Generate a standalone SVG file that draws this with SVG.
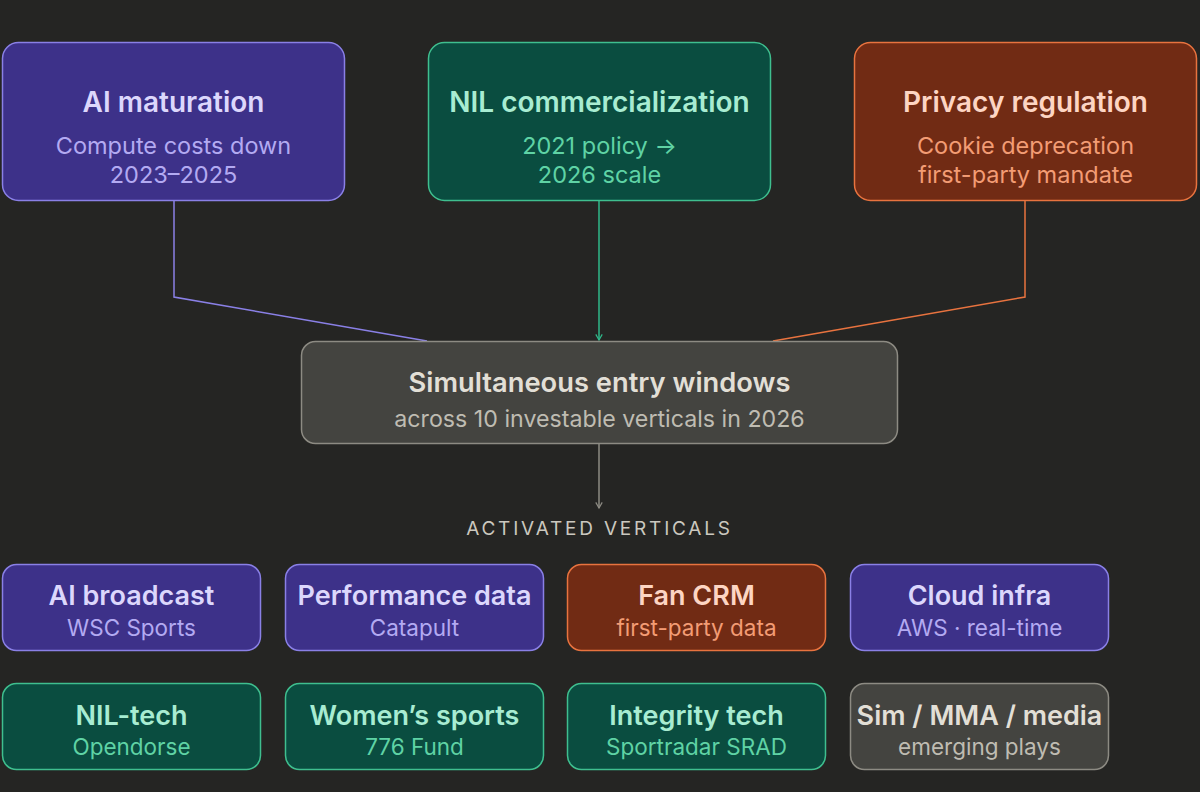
<svg xmlns="http://www.w3.org/2000/svg" width="1200" height="792" viewBox="0 0 1200 792">
<defs>
<marker id="ah-g" viewBox="0 0 10 10" refX="8" refY="5" markerWidth="8" markerHeight="8" orient="auto-start-reverse" markerUnits="userSpaceOnUse"><path d="M1 1 L8 5 L1 9" fill="none" stroke="#2fb88a" stroke-width="1.5"/></marker>
<marker id="ah-n" viewBox="0 0 10 10" refX="8" refY="5" markerWidth="8" markerHeight="8" orient="auto-start-reverse" markerUnits="userSpaceOnUse"><path d="M1 1 L8 5 L1 9" fill="none" stroke="#8d8b83" stroke-width="1.5"/></marker>
</defs>
<style>
text{font-family:Inter,"Liberation Sans",sans-serif;text-anchor:middle}
.t{font-weight:600}
.big{font-size:28px}
.sub{font-size:23.5px}
.cb{font-size:27.3px}
.cs{font-size:23.2px}
.bt{font-size:27px}
.bs{font-size:22.5px}
.purple rect{fill:#3d3189;stroke:#8a80e6;stroke-width:1.5}
.purple .t{fill:#dcd7fc}.purple .s{fill:#b3aaf2}
.green rect{fill:#0a4d40;stroke:#3fbf8f;stroke-width:1.5}
.green .t{fill:#a8ecd2}.green .s{fill:#5fd3a5}
.orange rect{fill:#712b14;stroke:#e8733f;stroke-width:1.5}
.orange .t{fill:#fdd5c3}.orange .s{fill:#f39c74}
.gray rect{fill:#444440;stroke:#8d8b83;stroke-width:1.5}
.gray .t{fill:#e2dfd6}.gray .s{fill:#bfbcb2}
.conn path{fill:none;stroke-width:1.5}
</style>
<rect width="1200" height="792" fill="#252523"/>
<g id="connectors" class="conn">
<path d="M174 201 V297 L427 341" stroke="#8a80e6"/>
<path d="M599 201 V340" stroke="#2fb88a" marker-end="url(#ah-g)"/>
<path d="M1025 201 V297 L773 341" stroke="#e8733f"/>
<path d="M599 444 V508" stroke="#8d8b83" marker-end="url(#ah-n)"/>
</g>
<g id="ai-maturation" class="purple">
<rect x="2.5" y="42.5" width="342" height="158" rx="16"/>
<text class="t big" x="173.5" y="112">AI maturation</text>
<text class="s sub" x="173.5" y="154">Compute costs down</text>
<text class="s sub" x="173.5" y="183">2023–2025</text>
</g>
<g id="nil-commercialization" class="green">
<rect x="428.5" y="42.5" width="342" height="158" rx="16"/>
<text class="t big" x="599.5" y="112">NIL commercialization</text>
<text class="s sub" x="599.5" y="154">2021 policy →</text>
<text class="s sub" x="599.5" y="183">2026 scale</text>
</g>
<g id="privacy-regulation" class="orange">
<rect x="854.5" y="42.5" width="342" height="158" rx="16"/>
<text class="t big" x="1025.5" y="112">Privacy regulation</text>
<text class="s sub" x="1025.5" y="154">Cookie deprecation</text>
<text class="s sub" x="1025.5" y="183">first-party mandate</text>
</g>
<g id="entry-windows" class="gray">
<rect x="301.5" y="341.5" width="596" height="102" rx="14"/>
<text class="t cb" x="599.5" y="392">Simultaneous entry windows</text>
<text class="s cs" x="599.5" y="427">across 10 investable verticals in 2026</text>
</g>
<text id="section-label" x="599.5" y="535" style="font-size:19px;letter-spacing:2.8px;fill:#cbc8bf">ACTIVATED VERTICALS</text>
<g id="ai-broadcast" class="purple">
<rect x="2.5" y="564.5" width="258" height="86" rx="14"/>
<text class="t bt" x="131.5" y="605">AI broadcast</text>
<text class="s bs" x="131.5" y="636">WSC Sports</text>
</g>
<g id="performance-data" class="purple">
<rect x="285.5" y="564.5" width="258" height="86" rx="14"/>
<text class="t bt" x="414.5" y="605">Performance data</text>
<text class="s bs" x="414.5" y="636">Catapult</text>
</g>
<g id="fan-crm" class="orange">
<rect x="567.5" y="564.5" width="258" height="86" rx="14"/>
<text class="t bt" x="696.5" y="605">Fan CRM</text>
<text class="s bs" x="696.5" y="636">first-party data</text>
</g>
<g id="cloud-infra" class="purple">
<rect x="850.5" y="564.5" width="258" height="86" rx="14"/>
<text class="t bt" x="979.5" y="605">Cloud infra</text>
<text class="s bs" x="979.5" y="636">AWS · real-time</text>
</g>
<g id="nil-tech" class="green">
<rect x="2.5" y="683.5" width="258" height="86" rx="14"/>
<text class="t bt" x="131.5" y="725">NIL-tech</text>
<text class="s bs" x="131.5" y="755">Opendorse</text>
</g>
<g id="womens-sports" class="green">
<rect x="285.5" y="683.5" width="258" height="86" rx="14"/>
<text class="t bt" x="414.5" y="725">Women’s sports</text>
<text class="s bs" x="414.5" y="755">776 Fund</text>
</g>
<g id="integrity-tech" class="green">
<rect x="567.5" y="683.5" width="258" height="86" rx="14"/>
<text class="t bt" x="696.5" y="725">Integrity tech</text>
<text class="s bs" x="696.5" y="755">Sportradar SRAD</text>
</g>
<g id="sim-mma-media" class="gray">
<rect x="850.5" y="683.5" width="258" height="86" rx="14"/>
<text class="t bt" x="979.5" y="725">Sim / MMA / media</text>
<text class="s bs" x="979.5" y="755">emerging plays</text>
</g>
</svg>
